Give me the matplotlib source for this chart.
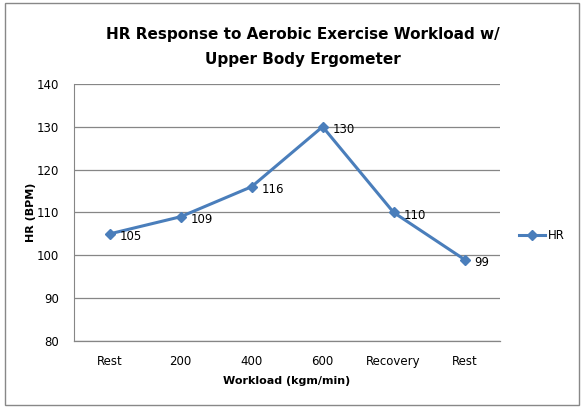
import matplotlib
matplotlib.use("Agg")
from matplotlib import pyplot as plt
from matplotlib.patches import Rectangle

categories = ["Rest", "200", "400", "600", "Recovery", "Rest"]
hr = [105, 109, 116, 130, 110, 99]

line_color = "#4A7EBB"
grid_color = "#868686"

fig = plt.figure(figsize=(5.85, 4.09), dpi=100)
fig.patches.append(Rectangle((0.009, 0.01), 0.98, 0.983, transform=fig.transFigure,
                             fill=False, edgecolor="#888888", linewidth=1.0))

ax = fig.add_axes([0.1265, 0.166, 0.7285, 0.629])
xs = [i + 0.5 for i in range(len(hr))]
ax.plot(xs, hr, color=line_color, linewidth=2.2, marker="D", markersize=5,
        markerfacecolor=line_color, markeredgecolor=line_color, label="HR")
for x, v in zip(xs, hr):
    ax.annotate(str(v), (x, v), xytext=(7, -2), textcoords="offset points",
                fontsize=8.5, va="center", ha="left")

ax.set_xlim(0, len(hr))
ax.set_ylim(80, 140)
ax.set_yticks(range(80, 141, 10))
ax.set_xticks(xs)
ax.set_xticklabels(categories, fontsize=8.5)
ax.tick_params(axis="y", labelsize=8.5, length=0, pad=11)
ax.tick_params(axis="x", length=0, pad=10)
ax.grid(axis="y", color=grid_color, linewidth=0.9)
ax.set_axisbelow(True)
for side in ["top", "right"]:
    ax.spines[side].set_visible(False)
ax.spines["left"].set_color(grid_color)
ax.spines["bottom"].set_color(grid_color)
ax.spines["bottom"].set_linewidth(0.9)

ax.set_xlabel("Workload (kgm/min)", fontsize=8, fontweight="bold", labelpad=6)
ax.set_ylabel("HR (BPM)", fontsize=8, fontweight="bold", labelpad=0)

fig.suptitle("HR Response to Aerobic Exercise Workload w/\nUpper Body Ergometer",
             fontsize=11, fontweight="bold", x=0.518, y=0.935, linespacing=1.85)

ax.legend(loc="center left", bbox_to_anchor=(1.02, 0.41), frameon=False,
          fontsize=8.5, handlelength=2.2, handletextpad=0.2)

fig.savefig("out.png", dpi=100)
